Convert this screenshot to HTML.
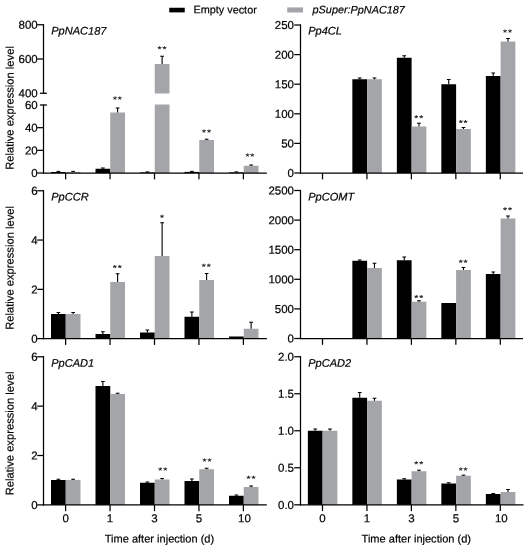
<!DOCTYPE html>
<html lang="en"><head><meta charset="utf-8"><title>Relative expression level</title>
<style>
html,body{margin:0;padding:0;background:#fff;}
svg{display:block;}
svg text{font-family:"Liberation Sans",Arial,Helvetica,sans-serif;font-size:10.9px;fill:#000;stroke:#000;stroke-width:0.2px;}
svg text.i{font-style:italic;}
svg text.k{font-size:11.5px;}
svg text.t{font-size:11.05px;}
svg text.l{font-size:10.85px;}
svg text.y{font-size:11.2px;}
svg text.s{font-size:9.8px;stroke-width:0.15px;letter-spacing:0.86px;}
</style></head><body>
<svg width="528" height="550" viewBox="0 0 528 550">
<rect x="0" y="0" width="528" height="550" fill="#fff"/>
<rect x="51.00" y="172.00" width="14.75" height="1.05" fill="#000"/>
<line x1="58.38" y1="172.00" x2="58.38" y2="171.40" stroke="#000" stroke-width="1.1"/>
<line x1="56.52" y1="171.40" x2="60.23" y2="171.40" stroke="#000" stroke-width="1.05"/>
<rect x="65.75" y="172.00" width="14.75" height="1.05" fill="#a3a5a8"/>
<line x1="73.12" y1="172.00" x2="73.12" y2="171.40" stroke="#000" stroke-width="1.1"/>
<line x1="71.28" y1="171.40" x2="74.97" y2="171.40" stroke="#000" stroke-width="1.05"/>
<rect x="95.50" y="168.75" width="14.75" height="4.30" fill="#000"/>
<line x1="102.88" y1="168.75" x2="102.88" y2="168.00" stroke="#000" stroke-width="1.1"/>
<line x1="101.03" y1="168.00" x2="104.72" y2="168.00" stroke="#000" stroke-width="1.05"/>
<rect x="110.25" y="112.50" width="14.75" height="60.55" fill="#a3a5a8"/>
<line x1="117.62" y1="112.50" x2="117.62" y2="108.00" stroke="#000" stroke-width="1.1"/>
<line x1="115.78" y1="108.00" x2="119.47" y2="108.00" stroke="#000" stroke-width="1.05"/>
<rect x="140.00" y="172.40" width="14.75" height="0.65" fill="#000"/>
<line x1="147.38" y1="172.40" x2="147.38" y2="171.90" stroke="#000" stroke-width="1.1"/>
<line x1="145.53" y1="171.90" x2="149.22" y2="171.90" stroke="#000" stroke-width="1.05"/>
<rect x="154.75" y="64.00" width="14.75" height="29.50" fill="#a3a5a8"/>
<rect x="154.75" y="104.50" width="14.75" height="68.55" fill="#a3a5a8"/>
<line x1="162.12" y1="64.00" x2="162.12" y2="56.25" stroke="#000" stroke-width="1.1"/>
<line x1="160.28" y1="56.25" x2="163.97" y2="56.25" stroke="#000" stroke-width="1.05"/>
<rect x="184.50" y="171.90" width="14.75" height="1.15" fill="#000"/>
<line x1="191.88" y1="171.90" x2="191.88" y2="171.40" stroke="#000" stroke-width="1.1"/>
<line x1="190.03" y1="171.40" x2="193.72" y2="171.40" stroke="#000" stroke-width="1.05"/>
<rect x="199.25" y="140.00" width="14.75" height="33.05" fill="#a3a5a8"/>
<line x1="206.62" y1="140.00" x2="206.62" y2="139.25" stroke="#000" stroke-width="1.1"/>
<line x1="204.78" y1="139.25" x2="208.47" y2="139.25" stroke="#000" stroke-width="1.05"/>
<rect x="229.00" y="172.40" width="14.75" height="0.65" fill="#000"/>
<line x1="236.38" y1="172.40" x2="236.38" y2="171.90" stroke="#000" stroke-width="1.1"/>
<line x1="234.53" y1="171.90" x2="238.22" y2="171.90" stroke="#000" stroke-width="1.05"/>
<rect x="243.75" y="165.75" width="14.75" height="7.30" fill="#a3a5a8"/>
<line x1="251.12" y1="165.75" x2="251.12" y2="165.00" stroke="#000" stroke-width="1.1"/>
<line x1="249.28" y1="165.00" x2="252.97" y2="165.00" stroke="#000" stroke-width="1.05"/>
<line x1="43.50" y1="24.12" x2="43.50" y2="93.50" stroke="#000" stroke-width="1.25"/>
<line x1="43.50" y1="104.50" x2="43.50" y2="173.68" stroke="#000" stroke-width="1.25"/>
<line x1="42.88" y1="173.05" x2="266.90" y2="173.05" stroke="#000" stroke-width="1.25"/>
<line x1="37.25" y1="24.75" x2="43.50" y2="24.75" stroke="#000" stroke-width="1.25"/>
<text x="37.70" y="28.85" transform="rotate(0.05 37.70 28.85)" text-anchor="end" class="k">800</text>
<line x1="37.25" y1="59.00" x2="43.50" y2="59.00" stroke="#000" stroke-width="1.25"/>
<text x="37.70" y="63.10" transform="rotate(0.05 37.70 63.10)" text-anchor="end" class="k">600</text>
<line x1="39.90" y1="93.25" x2="46.90" y2="93.25" stroke="#000" stroke-width="1.25"/>
<text x="37.70" y="97.35" transform="rotate(0.05 37.70 97.35)" text-anchor="end" class="k">400</text>
<line x1="39.90" y1="105.00" x2="46.90" y2="105.00" stroke="#000" stroke-width="1.25"/>
<text x="37.70" y="109.10" transform="rotate(0.05 37.70 109.10)" text-anchor="end" class="k">60</text>
<line x1="37.25" y1="127.67" x2="43.50" y2="127.67" stroke="#000" stroke-width="1.25"/>
<text x="37.70" y="131.77" transform="rotate(0.05 37.70 131.77)" text-anchor="end" class="k">40</text>
<line x1="37.25" y1="150.33" x2="43.50" y2="150.33" stroke="#000" stroke-width="1.25"/>
<text x="37.70" y="154.43" transform="rotate(0.05 37.70 154.43)" text-anchor="end" class="k">20</text>
<line x1="37.25" y1="173.00" x2="43.50" y2="173.00" stroke="#000" stroke-width="1.25"/>
<text x="37.70" y="177.10" transform="rotate(0.05 37.70 177.10)" text-anchor="end" class="k">0</text>
<line x1="65.60" y1="173.05" x2="65.60" y2="179.35" stroke="#000" stroke-width="1.25"/>
<line x1="110.05" y1="173.05" x2="110.05" y2="179.35" stroke="#000" stroke-width="1.25"/>
<line x1="154.50" y1="173.05" x2="154.50" y2="179.35" stroke="#000" stroke-width="1.25"/>
<line x1="198.95" y1="173.05" x2="198.95" y2="179.35" stroke="#000" stroke-width="1.25"/>
<line x1="243.40" y1="173.05" x2="243.40" y2="179.35" stroke="#000" stroke-width="1.25"/>
<text x="51.20" y="34.60" transform="rotate(0.05 51.20 34.60)" text-anchor="start" class="t i">PpNAC187</text>
<text transform="translate(117.40,98.25) rotate(0.05) scale(1.05,0.85)" x="0.43" y="4.75" text-anchor="middle" class="s">**</text>
<text transform="translate(162.00,48.00) rotate(0.05) scale(1.05,0.85)" x="0.43" y="4.75" text-anchor="middle" class="s">**</text>
<text transform="translate(206.50,131.25) rotate(0.05) scale(1.05,0.85)" x="0.43" y="4.75" text-anchor="middle" class="s">**</text>
<text transform="translate(249.90,155.25) rotate(0.05) scale(1.05,0.85)" x="0.43" y="4.75" text-anchor="middle" class="s">**</text>
<text transform="translate(13.6,108.00) rotate(-89.95)" text-anchor="middle" class="y">Relative expression level</text>
<rect x="352.35" y="79.25" width="14.75" height="93.80" fill="#000"/>
<line x1="359.73" y1="79.25" x2="359.73" y2="78.00" stroke="#000" stroke-width="1.1"/>
<line x1="357.88" y1="78.00" x2="361.58" y2="78.00" stroke="#000" stroke-width="1.05"/>
<rect x="367.10" y="79.25" width="14.75" height="93.80" fill="#a3a5a8"/>
<line x1="374.48" y1="79.25" x2="374.48" y2="78.00" stroke="#000" stroke-width="1.1"/>
<line x1="372.62" y1="78.00" x2="376.33" y2="78.00" stroke="#000" stroke-width="1.05"/>
<rect x="396.85" y="57.75" width="14.75" height="115.30" fill="#000"/>
<line x1="404.23" y1="57.75" x2="404.23" y2="55.75" stroke="#000" stroke-width="1.1"/>
<line x1="402.38" y1="55.75" x2="406.08" y2="55.75" stroke="#000" stroke-width="1.05"/>
<rect x="411.60" y="126.50" width="14.75" height="46.55" fill="#a3a5a8"/>
<line x1="418.98" y1="126.50" x2="418.98" y2="123.25" stroke="#000" stroke-width="1.1"/>
<line x1="417.12" y1="123.25" x2="420.83" y2="123.25" stroke="#000" stroke-width="1.05"/>
<rect x="441.35" y="84.25" width="14.75" height="88.80" fill="#000"/>
<line x1="448.73" y1="84.25" x2="448.73" y2="79.50" stroke="#000" stroke-width="1.1"/>
<line x1="446.88" y1="79.50" x2="450.58" y2="79.50" stroke="#000" stroke-width="1.05"/>
<rect x="456.10" y="129.00" width="14.75" height="44.05" fill="#a3a5a8"/>
<line x1="463.48" y1="129.00" x2="463.48" y2="127.50" stroke="#000" stroke-width="1.1"/>
<line x1="461.62" y1="127.50" x2="465.33" y2="127.50" stroke="#000" stroke-width="1.05"/>
<rect x="485.85" y="76.00" width="14.75" height="97.05" fill="#000"/>
<line x1="493.23" y1="76.00" x2="493.23" y2="73.00" stroke="#000" stroke-width="1.1"/>
<line x1="491.38" y1="73.00" x2="495.08" y2="73.00" stroke="#000" stroke-width="1.05"/>
<rect x="500.60" y="41.50" width="14.75" height="131.55" fill="#a3a5a8"/>
<line x1="507.98" y1="41.50" x2="507.98" y2="38.50" stroke="#000" stroke-width="1.1"/>
<line x1="506.12" y1="38.50" x2="509.83" y2="38.50" stroke="#000" stroke-width="1.05"/>
<line x1="300.50" y1="24.38" x2="300.50" y2="173.68" stroke="#000" stroke-width="1.25"/>
<line x1="299.88" y1="173.05" x2="523.00" y2="173.05" stroke="#000" stroke-width="1.25"/>
<line x1="294.25" y1="25.00" x2="300.50" y2="25.00" stroke="#000" stroke-width="1.25"/>
<text x="294.00" y="29.10" transform="rotate(0.05 294.00 29.10)" text-anchor="end" class="k">250</text>
<line x1="294.25" y1="54.60" x2="300.50" y2="54.60" stroke="#000" stroke-width="1.25"/>
<text x="294.00" y="58.70" transform="rotate(0.05 294.00 58.70)" text-anchor="end" class="k">200</text>
<line x1="294.25" y1="84.20" x2="300.50" y2="84.20" stroke="#000" stroke-width="1.25"/>
<text x="294.00" y="88.30" transform="rotate(0.05 294.00 88.30)" text-anchor="end" class="k">150</text>
<line x1="294.25" y1="113.80" x2="300.50" y2="113.80" stroke="#000" stroke-width="1.25"/>
<text x="294.00" y="117.90" transform="rotate(0.05 294.00 117.90)" text-anchor="end" class="k">100</text>
<line x1="294.25" y1="143.40" x2="300.50" y2="143.40" stroke="#000" stroke-width="1.25"/>
<text x="294.00" y="147.50" transform="rotate(0.05 294.00 147.50)" text-anchor="end" class="k">50</text>
<line x1="294.25" y1="173.00" x2="300.50" y2="173.00" stroke="#000" stroke-width="1.25"/>
<text x="294.00" y="177.10" transform="rotate(0.05 294.00 177.10)" text-anchor="end" class="k">0</text>
<line x1="322.50" y1="173.05" x2="322.50" y2="179.35" stroke="#000" stroke-width="1.25"/>
<line x1="366.95" y1="173.05" x2="366.95" y2="179.35" stroke="#000" stroke-width="1.25"/>
<line x1="411.40" y1="173.05" x2="411.40" y2="179.35" stroke="#000" stroke-width="1.25"/>
<line x1="455.85" y1="173.05" x2="455.85" y2="179.35" stroke="#000" stroke-width="1.25"/>
<line x1="500.30" y1="173.05" x2="500.30" y2="179.35" stroke="#000" stroke-width="1.25"/>
<text x="308.20" y="34.60" transform="rotate(0.05 308.20 34.60)" text-anchor="start" class="t i">Pp4CL</text>
<text transform="translate(418.75,117.00) rotate(0.05) scale(1.05,0.85)" x="0.43" y="4.75" text-anchor="middle" class="s">**</text>
<text transform="translate(463.10,121.75) rotate(0.05) scale(1.05,0.85)" x="0.43" y="4.75" text-anchor="middle" class="s">**</text>
<text transform="translate(507.50,31.25) rotate(0.05) scale(1.05,0.85)" x="0.43" y="4.75" text-anchor="middle" class="s">**</text>
<rect x="51.00" y="314.00" width="14.75" height="24.60" fill="#000"/>
<line x1="58.38" y1="314.00" x2="58.38" y2="312.50" stroke="#000" stroke-width="1.1"/>
<line x1="56.52" y1="312.50" x2="60.23" y2="312.50" stroke="#000" stroke-width="1.05"/>
<rect x="65.75" y="314.00" width="14.75" height="24.60" fill="#a3a5a8"/>
<line x1="73.12" y1="314.00" x2="73.12" y2="312.50" stroke="#000" stroke-width="1.1"/>
<line x1="71.28" y1="312.50" x2="74.97" y2="312.50" stroke="#000" stroke-width="1.05"/>
<rect x="95.50" y="334.00" width="14.75" height="4.60" fill="#000"/>
<line x1="102.88" y1="334.00" x2="102.88" y2="331.75" stroke="#000" stroke-width="1.1"/>
<line x1="101.03" y1="331.75" x2="104.72" y2="331.75" stroke="#000" stroke-width="1.05"/>
<rect x="110.25" y="282.00" width="14.75" height="56.60" fill="#a3a5a8"/>
<line x1="117.62" y1="282.00" x2="117.62" y2="273.75" stroke="#000" stroke-width="1.1"/>
<line x1="115.78" y1="273.75" x2="119.47" y2="273.75" stroke="#000" stroke-width="1.05"/>
<rect x="140.00" y="332.50" width="14.75" height="6.10" fill="#000"/>
<line x1="147.38" y1="332.50" x2="147.38" y2="330.00" stroke="#000" stroke-width="1.1"/>
<line x1="145.53" y1="330.00" x2="149.22" y2="330.00" stroke="#000" stroke-width="1.05"/>
<rect x="154.75" y="256.00" width="14.75" height="82.60" fill="#a3a5a8"/>
<line x1="162.12" y1="256.00" x2="162.12" y2="222.75" stroke="#000" stroke-width="1.1"/>
<line x1="160.28" y1="222.75" x2="163.97" y2="222.75" stroke="#000" stroke-width="1.05"/>
<rect x="184.50" y="316.75" width="14.75" height="21.85" fill="#000"/>
<line x1="191.88" y1="316.75" x2="191.88" y2="312.00" stroke="#000" stroke-width="1.1"/>
<line x1="190.03" y1="312.00" x2="193.72" y2="312.00" stroke="#000" stroke-width="1.05"/>
<rect x="199.25" y="280.00" width="14.75" height="58.60" fill="#a3a5a8"/>
<line x1="206.62" y1="280.00" x2="206.62" y2="273.50" stroke="#000" stroke-width="1.1"/>
<line x1="204.78" y1="273.50" x2="208.47" y2="273.50" stroke="#000" stroke-width="1.05"/>
<rect x="229.00" y="336.50" width="14.75" height="2.10" fill="#000"/>
<rect x="243.75" y="328.75" width="14.75" height="9.85" fill="#a3a5a8"/>
<line x1="251.12" y1="328.75" x2="251.12" y2="322.25" stroke="#000" stroke-width="1.1"/>
<line x1="249.28" y1="322.25" x2="252.97" y2="322.25" stroke="#000" stroke-width="1.05"/>
<line x1="43.50" y1="190.12" x2="43.50" y2="339.23" stroke="#000" stroke-width="1.25"/>
<line x1="42.88" y1="338.60" x2="266.90" y2="338.60" stroke="#000" stroke-width="1.25"/>
<line x1="37.25" y1="190.75" x2="43.50" y2="190.75" stroke="#000" stroke-width="1.25"/>
<text x="37.70" y="194.85" transform="rotate(0.05 37.70 194.85)" text-anchor="end" class="k">6</text>
<line x1="37.25" y1="240.05" x2="43.50" y2="240.05" stroke="#000" stroke-width="1.25"/>
<text x="37.70" y="244.15" transform="rotate(0.05 37.70 244.15)" text-anchor="end" class="k">4</text>
<line x1="37.25" y1="289.35" x2="43.50" y2="289.35" stroke="#000" stroke-width="1.25"/>
<text x="37.70" y="293.45" transform="rotate(0.05 37.70 293.45)" text-anchor="end" class="k">2</text>
<line x1="37.25" y1="338.60" x2="43.50" y2="338.60" stroke="#000" stroke-width="1.25"/>
<text x="37.70" y="342.70" transform="rotate(0.05 37.70 342.70)" text-anchor="end" class="k">0</text>
<line x1="65.60" y1="338.60" x2="65.60" y2="344.90" stroke="#000" stroke-width="1.25"/>
<line x1="110.05" y1="338.60" x2="110.05" y2="344.90" stroke="#000" stroke-width="1.25"/>
<line x1="154.50" y1="338.60" x2="154.50" y2="344.90" stroke="#000" stroke-width="1.25"/>
<line x1="198.95" y1="338.60" x2="198.95" y2="344.90" stroke="#000" stroke-width="1.25"/>
<line x1="243.40" y1="338.60" x2="243.40" y2="344.90" stroke="#000" stroke-width="1.25"/>
<text x="51.20" y="200.50" transform="rotate(0.05 51.20 200.50)" text-anchor="start" class="t i">PpCCR</text>
<text transform="translate(117.30,266.75) rotate(0.05) scale(1.05,0.85)" x="0.43" y="4.75" text-anchor="middle" class="s">**</text>
<text transform="translate(162.10,216.50) rotate(0.05) scale(1.05,0.85)" x="0.43" y="4.75" text-anchor="middle" class="s">*</text>
<text transform="translate(206.30,265.50) rotate(0.05) scale(1.05,0.85)" x="0.43" y="4.75" text-anchor="middle" class="s">**</text>
<text transform="translate(13.6,267.90) rotate(-89.95)" text-anchor="middle" class="y">Relative expression level</text>
<rect x="352.35" y="260.75" width="14.75" height="77.75" fill="#000"/>
<line x1="359.73" y1="260.75" x2="359.73" y2="260.00" stroke="#000" stroke-width="1.1"/>
<line x1="357.88" y1="260.00" x2="361.58" y2="260.00" stroke="#000" stroke-width="1.05"/>
<rect x="367.10" y="268.00" width="14.75" height="70.50" fill="#a3a5a8"/>
<line x1="374.48" y1="268.00" x2="374.48" y2="263.25" stroke="#000" stroke-width="1.1"/>
<line x1="372.62" y1="263.25" x2="376.33" y2="263.25" stroke="#000" stroke-width="1.05"/>
<rect x="396.85" y="260.25" width="14.75" height="78.25" fill="#000"/>
<line x1="404.23" y1="260.25" x2="404.23" y2="257.00" stroke="#000" stroke-width="1.1"/>
<line x1="402.38" y1="257.00" x2="406.08" y2="257.00" stroke="#000" stroke-width="1.05"/>
<rect x="411.60" y="301.75" width="14.75" height="36.75" fill="#a3a5a8"/>
<line x1="418.98" y1="301.75" x2="418.98" y2="300.75" stroke="#000" stroke-width="1.1"/>
<line x1="417.12" y1="300.75" x2="420.83" y2="300.75" stroke="#000" stroke-width="1.05"/>
<rect x="441.35" y="303.00" width="14.75" height="35.50" fill="#000"/>
<rect x="456.10" y="270.00" width="14.75" height="68.50" fill="#a3a5a8"/>
<line x1="463.48" y1="270.00" x2="463.48" y2="267.50" stroke="#000" stroke-width="1.1"/>
<line x1="461.62" y1="267.50" x2="465.33" y2="267.50" stroke="#000" stroke-width="1.05"/>
<rect x="485.85" y="274.00" width="14.75" height="64.50" fill="#000"/>
<line x1="493.23" y1="274.00" x2="493.23" y2="272.00" stroke="#000" stroke-width="1.1"/>
<line x1="491.38" y1="272.00" x2="495.08" y2="272.00" stroke="#000" stroke-width="1.05"/>
<rect x="500.60" y="218.50" width="14.75" height="120.00" fill="#a3a5a8"/>
<line x1="507.98" y1="218.50" x2="507.98" y2="216.00" stroke="#000" stroke-width="1.1"/>
<line x1="506.12" y1="216.00" x2="509.83" y2="216.00" stroke="#000" stroke-width="1.05"/>
<line x1="300.50" y1="189.88" x2="300.50" y2="339.12" stroke="#000" stroke-width="1.25"/>
<line x1="299.88" y1="338.50" x2="523.00" y2="338.50" stroke="#000" stroke-width="1.25"/>
<line x1="294.25" y1="190.50" x2="300.50" y2="190.50" stroke="#000" stroke-width="1.25"/>
<text x="294.00" y="194.60" transform="rotate(0.05 294.00 194.60)" text-anchor="end" class="k">2500</text>
<line x1="294.25" y1="220.10" x2="300.50" y2="220.10" stroke="#000" stroke-width="1.25"/>
<text x="294.00" y="224.20" transform="rotate(0.05 294.00 224.20)" text-anchor="end" class="k">2000</text>
<line x1="294.25" y1="249.70" x2="300.50" y2="249.70" stroke="#000" stroke-width="1.25"/>
<text x="294.00" y="253.80" transform="rotate(0.05 294.00 253.80)" text-anchor="end" class="k">1500</text>
<line x1="294.25" y1="279.30" x2="300.50" y2="279.30" stroke="#000" stroke-width="1.25"/>
<text x="294.00" y="283.40" transform="rotate(0.05 294.00 283.40)" text-anchor="end" class="k">1000</text>
<line x1="294.25" y1="308.90" x2="300.50" y2="308.90" stroke="#000" stroke-width="1.25"/>
<text x="294.00" y="313.00" transform="rotate(0.05 294.00 313.00)" text-anchor="end" class="k">500</text>
<line x1="294.25" y1="338.50" x2="300.50" y2="338.50" stroke="#000" stroke-width="1.25"/>
<text x="294.00" y="342.60" transform="rotate(0.05 294.00 342.60)" text-anchor="end" class="k">0</text>
<line x1="322.50" y1="338.50" x2="322.50" y2="344.80" stroke="#000" stroke-width="1.25"/>
<line x1="366.95" y1="338.50" x2="366.95" y2="344.80" stroke="#000" stroke-width="1.25"/>
<line x1="411.40" y1="338.50" x2="411.40" y2="344.80" stroke="#000" stroke-width="1.25"/>
<line x1="455.85" y1="338.50" x2="455.85" y2="344.80" stroke="#000" stroke-width="1.25"/>
<line x1="500.30" y1="338.50" x2="500.30" y2="344.80" stroke="#000" stroke-width="1.25"/>
<text x="308.20" y="200.50" transform="rotate(0.05 308.20 200.50)" text-anchor="start" class="t i">PpCOMT</text>
<text transform="translate(418.75,296.75) rotate(0.05) scale(1.05,0.85)" x="0.43" y="4.75" text-anchor="middle" class="s">**</text>
<text transform="translate(463.10,261.50) rotate(0.05) scale(1.05,0.85)" x="0.43" y="4.75" text-anchor="middle" class="s">**</text>
<text transform="translate(507.50,209.00) rotate(0.05) scale(1.05,0.85)" x="0.43" y="4.75" text-anchor="middle" class="s">**</text>
<rect x="51.00" y="480.00" width="14.75" height="24.90" fill="#000"/>
<line x1="58.38" y1="480.00" x2="58.38" y2="479.25" stroke="#000" stroke-width="1.1"/>
<line x1="56.52" y1="479.25" x2="60.23" y2="479.25" stroke="#000" stroke-width="1.05"/>
<rect x="65.75" y="480.00" width="14.75" height="24.90" fill="#a3a5a8"/>
<line x1="73.12" y1="480.00" x2="73.12" y2="479.25" stroke="#000" stroke-width="1.1"/>
<line x1="71.28" y1="479.25" x2="74.97" y2="479.25" stroke="#000" stroke-width="1.05"/>
<rect x="95.50" y="386.00" width="14.75" height="118.90" fill="#000"/>
<line x1="102.88" y1="386.00" x2="102.88" y2="381.50" stroke="#000" stroke-width="1.1"/>
<line x1="101.03" y1="381.50" x2="104.72" y2="381.50" stroke="#000" stroke-width="1.05"/>
<rect x="110.25" y="394.00" width="14.75" height="110.90" fill="#a3a5a8"/>
<line x1="117.62" y1="394.00" x2="117.62" y2="393.25" stroke="#000" stroke-width="1.1"/>
<line x1="115.78" y1="393.25" x2="119.47" y2="393.25" stroke="#000" stroke-width="1.05"/>
<rect x="140.00" y="482.75" width="14.75" height="22.15" fill="#000"/>
<line x1="147.38" y1="482.75" x2="147.38" y2="482.00" stroke="#000" stroke-width="1.1"/>
<line x1="145.53" y1="482.00" x2="149.22" y2="482.00" stroke="#000" stroke-width="1.05"/>
<rect x="154.75" y="479.50" width="14.75" height="25.40" fill="#a3a5a8"/>
<line x1="162.12" y1="479.50" x2="162.12" y2="478.50" stroke="#000" stroke-width="1.1"/>
<line x1="160.28" y1="478.50" x2="163.97" y2="478.50" stroke="#000" stroke-width="1.05"/>
<rect x="184.50" y="481.00" width="14.75" height="23.90" fill="#000"/>
<line x1="191.88" y1="481.00" x2="191.88" y2="479.00" stroke="#000" stroke-width="1.1"/>
<line x1="190.03" y1="479.00" x2="193.72" y2="479.00" stroke="#000" stroke-width="1.05"/>
<rect x="199.25" y="469.25" width="14.75" height="35.65" fill="#a3a5a8"/>
<line x1="206.62" y1="469.25" x2="206.62" y2="468.25" stroke="#000" stroke-width="1.1"/>
<line x1="204.78" y1="468.25" x2="208.47" y2="468.25" stroke="#000" stroke-width="1.05"/>
<rect x="229.00" y="495.75" width="14.75" height="9.15" fill="#000"/>
<line x1="236.38" y1="495.75" x2="236.38" y2="495.00" stroke="#000" stroke-width="1.1"/>
<line x1="234.53" y1="495.00" x2="238.22" y2="495.00" stroke="#000" stroke-width="1.05"/>
<rect x="243.75" y="487.00" width="14.75" height="17.90" fill="#a3a5a8"/>
<line x1="251.12" y1="487.00" x2="251.12" y2="486.00" stroke="#000" stroke-width="1.1"/>
<line x1="249.28" y1="486.00" x2="252.97" y2="486.00" stroke="#000" stroke-width="1.05"/>
<line x1="43.50" y1="356.12" x2="43.50" y2="505.52" stroke="#000" stroke-width="1.25"/>
<line x1="42.88" y1="504.90" x2="266.80" y2="504.90" stroke="#000" stroke-width="1.25"/>
<line x1="37.25" y1="356.75" x2="43.50" y2="356.75" stroke="#000" stroke-width="1.25"/>
<text x="37.70" y="360.85" transform="rotate(0.05 37.70 360.85)" text-anchor="end" class="k">6</text>
<line x1="37.25" y1="406.15" x2="43.50" y2="406.15" stroke="#000" stroke-width="1.25"/>
<text x="37.70" y="410.25" transform="rotate(0.05 37.70 410.25)" text-anchor="end" class="k">4</text>
<line x1="37.25" y1="455.50" x2="43.50" y2="455.50" stroke="#000" stroke-width="1.25"/>
<text x="37.70" y="459.60" transform="rotate(0.05 37.70 459.60)" text-anchor="end" class="k">2</text>
<line x1="37.25" y1="504.90" x2="43.50" y2="504.90" stroke="#000" stroke-width="1.25"/>
<text x="37.70" y="509.00" transform="rotate(0.05 37.70 509.00)" text-anchor="end" class="k">0</text>
<line x1="65.60" y1="504.90" x2="65.60" y2="511.20" stroke="#000" stroke-width="1.25"/>
<line x1="110.05" y1="504.90" x2="110.05" y2="511.20" stroke="#000" stroke-width="1.25"/>
<line x1="154.50" y1="504.90" x2="154.50" y2="511.20" stroke="#000" stroke-width="1.25"/>
<line x1="198.95" y1="504.90" x2="198.95" y2="511.20" stroke="#000" stroke-width="1.25"/>
<line x1="243.40" y1="504.90" x2="243.40" y2="511.20" stroke="#000" stroke-width="1.25"/>
<text x="51.20" y="366.75" transform="rotate(0.05 51.20 366.75)" text-anchor="start" class="t i">PpCAD1</text>
<text transform="translate(162.75,469.10) rotate(0.05) scale(1.05,0.85)" x="0.43" y="4.75" text-anchor="middle" class="s">**</text>
<text transform="translate(207.00,460.30) rotate(0.05) scale(1.05,0.85)" x="0.43" y="4.75" text-anchor="middle" class="s">**</text>
<text transform="translate(251.00,477.50) rotate(0.05) scale(1.05,0.85)" x="0.43" y="4.75" text-anchor="middle" class="s">**</text>
<text x="65.60" y="522.20" transform="rotate(0.05 65.60 522.20)" text-anchor="middle" class="k">0</text>
<text x="110.05" y="522.20" transform="rotate(0.05 110.05 522.20)" text-anchor="middle" class="k">1</text>
<text x="154.50" y="522.20" transform="rotate(0.05 154.50 522.20)" text-anchor="middle" class="k">3</text>
<text x="198.95" y="522.20" transform="rotate(0.05 198.95 522.20)" text-anchor="middle" class="k">5</text>
<text x="244.40" y="522.20" transform="rotate(0.05 244.40 522.20)" text-anchor="middle" class="k">10</text>
<text x="159.45" y="542.50" transform="rotate(0.05 159.45 542.50)" text-anchor="middle" class="t">Time after injection (d)</text>
<text transform="translate(13.6,433.50) rotate(-89.95)" text-anchor="middle" class="y">Relative expression level</text>
<rect x="307.85" y="430.75" width="14.75" height="74.05" fill="#000"/>
<line x1="315.23" y1="430.75" x2="315.23" y2="429.00" stroke="#000" stroke-width="1.1"/>
<line x1="313.38" y1="429.00" x2="317.08" y2="429.00" stroke="#000" stroke-width="1.05"/>
<rect x="322.60" y="430.75" width="14.75" height="74.05" fill="#a3a5a8"/>
<line x1="329.98" y1="430.75" x2="329.98" y2="429.00" stroke="#000" stroke-width="1.1"/>
<line x1="328.12" y1="429.00" x2="331.83" y2="429.00" stroke="#000" stroke-width="1.05"/>
<rect x="352.35" y="397.75" width="14.75" height="107.05" fill="#000"/>
<line x1="359.73" y1="397.75" x2="359.73" y2="392.50" stroke="#000" stroke-width="1.1"/>
<line x1="357.88" y1="392.50" x2="361.58" y2="392.50" stroke="#000" stroke-width="1.05"/>
<rect x="367.10" y="400.75" width="14.75" height="104.05" fill="#a3a5a8"/>
<line x1="374.48" y1="400.75" x2="374.48" y2="398.25" stroke="#000" stroke-width="1.1"/>
<line x1="372.62" y1="398.25" x2="376.33" y2="398.25" stroke="#000" stroke-width="1.05"/>
<rect x="396.85" y="479.50" width="14.75" height="25.30" fill="#000"/>
<line x1="404.23" y1="479.50" x2="404.23" y2="478.75" stroke="#000" stroke-width="1.1"/>
<line x1="402.38" y1="478.75" x2="406.08" y2="478.75" stroke="#000" stroke-width="1.05"/>
<rect x="411.60" y="471.25" width="14.75" height="33.55" fill="#a3a5a8"/>
<line x1="418.98" y1="471.25" x2="418.98" y2="470.20" stroke="#000" stroke-width="1.1"/>
<line x1="417.12" y1="470.20" x2="420.83" y2="470.20" stroke="#000" stroke-width="1.05"/>
<rect x="441.35" y="483.50" width="14.75" height="21.30" fill="#000"/>
<line x1="448.73" y1="483.50" x2="448.73" y2="482.75" stroke="#000" stroke-width="1.1"/>
<line x1="446.88" y1="482.75" x2="450.58" y2="482.75" stroke="#000" stroke-width="1.05"/>
<rect x="456.10" y="475.75" width="14.75" height="29.05" fill="#a3a5a8"/>
<line x1="463.48" y1="475.75" x2="463.48" y2="475.20" stroke="#000" stroke-width="1.1"/>
<line x1="461.62" y1="475.20" x2="465.33" y2="475.20" stroke="#000" stroke-width="1.05"/>
<rect x="485.85" y="494.00" width="14.75" height="10.80" fill="#000"/>
<line x1="493.23" y1="494.00" x2="493.23" y2="493.50" stroke="#000" stroke-width="1.1"/>
<line x1="491.38" y1="493.50" x2="495.08" y2="493.50" stroke="#000" stroke-width="1.05"/>
<rect x="500.60" y="492.00" width="14.75" height="12.80" fill="#a3a5a8"/>
<line x1="507.98" y1="492.00" x2="507.98" y2="489.50" stroke="#000" stroke-width="1.1"/>
<line x1="506.12" y1="489.50" x2="509.83" y2="489.50" stroke="#000" stroke-width="1.05"/>
<line x1="300.50" y1="356.12" x2="300.50" y2="505.43" stroke="#000" stroke-width="1.25"/>
<line x1="299.88" y1="504.80" x2="523.50" y2="504.80" stroke="#000" stroke-width="1.25"/>
<line x1="294.25" y1="356.75" x2="300.50" y2="356.75" stroke="#000" stroke-width="1.25"/>
<text x="294.00" y="360.85" transform="rotate(0.05 294.00 360.85)" text-anchor="end" class="k">2.0</text>
<line x1="294.25" y1="393.75" x2="300.50" y2="393.75" stroke="#000" stroke-width="1.25"/>
<text x="294.00" y="397.85" transform="rotate(0.05 294.00 397.85)" text-anchor="end" class="k">1.5</text>
<line x1="294.25" y1="430.75" x2="300.50" y2="430.75" stroke="#000" stroke-width="1.25"/>
<text x="294.00" y="434.85" transform="rotate(0.05 294.00 434.85)" text-anchor="end" class="k">1.0</text>
<line x1="294.25" y1="467.75" x2="300.50" y2="467.75" stroke="#000" stroke-width="1.25"/>
<text x="294.00" y="471.85" transform="rotate(0.05 294.00 471.85)" text-anchor="end" class="k">0.5</text>
<line x1="294.25" y1="504.80" x2="300.50" y2="504.80" stroke="#000" stroke-width="1.25"/>
<text x="294.00" y="508.90" transform="rotate(0.05 294.00 508.90)" text-anchor="end" class="k">0.0</text>
<line x1="322.50" y1="504.80" x2="322.50" y2="511.10" stroke="#000" stroke-width="1.25"/>
<line x1="366.95" y1="504.80" x2="366.95" y2="511.10" stroke="#000" stroke-width="1.25"/>
<line x1="411.40" y1="504.80" x2="411.40" y2="511.10" stroke="#000" stroke-width="1.25"/>
<line x1="455.85" y1="504.80" x2="455.85" y2="511.10" stroke="#000" stroke-width="1.25"/>
<line x1="500.30" y1="504.80" x2="500.30" y2="511.10" stroke="#000" stroke-width="1.25"/>
<text x="308.20" y="366.75" transform="rotate(0.05 308.20 366.75)" text-anchor="start" class="t i">PpCAD2</text>
<text transform="translate(418.75,462.90) rotate(0.05) scale(1.05,0.85)" x="0.43" y="4.75" text-anchor="middle" class="s">**</text>
<text transform="translate(463.10,469.10) rotate(0.05) scale(1.05,0.85)" x="0.43" y="4.75" text-anchor="middle" class="s">**</text>
<text x="322.50" y="522.20" transform="rotate(0.05 322.50 522.20)" text-anchor="middle" class="k">0</text>
<text x="366.95" y="522.20" transform="rotate(0.05 366.95 522.20)" text-anchor="middle" class="k">1</text>
<text x="411.40" y="522.20" transform="rotate(0.05 411.40 522.20)" text-anchor="middle" class="k">3</text>
<text x="455.85" y="522.20" transform="rotate(0.05 455.85 522.20)" text-anchor="middle" class="k">5</text>
<text x="501.30" y="522.20" transform="rotate(0.05 501.30 522.20)" text-anchor="middle" class="k">10</text>
<text x="416.30" y="542.50" transform="rotate(0.05 416.30 542.50)" text-anchor="middle" class="t">Time after injection (d)</text>
<rect x="169.25" y="7.75" width="15.50" height="4.65" fill="#000"/>
<text x="193.50" y="13.35" transform="rotate(0.05 193.50 13.35)" text-anchor="start" class="l">Empty vector</text>
<rect x="287.25" y="7.40" width="15.75" height="5.10" fill="#a3a5a8"/>
<text x="312.60" y="13.35" transform="rotate(0.05 312.60 13.35)" text-anchor="start" class="l i">pSuper:PpNAC187</text>
</svg>
</body></html>
